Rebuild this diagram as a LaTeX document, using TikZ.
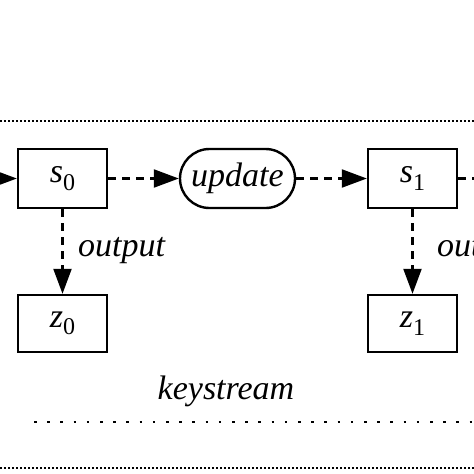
\documentclass[tikz,border=0pt]{standalone}
\usepackage{fontspec}
\setmainfont{Liberation Serif}
\usetikzlibrary{arrows.meta,shapes.misc}
\newcommand{\sub}[2]{\textit{#1}\raisebox{-0.22em}{\fontsize{24}{24}\selectfont #2}}
\begin{document}
\begin{tikzpicture}[x=1pt,y=-1pt,
  every node/.style={font=\fontsize{34}{40}\selectfont},
  statebox/.style={draw,line width=2.4pt,minimum width=89pt,minimum height=59pt,inner sep=0pt},
  outbox/.style={draw,line width=2.4pt,minimum width=89pt,minimum height=57pt,inner sep=0pt},
  updbox/.style={draw,line width=2.4pt,rounded rectangle,minimum width=115pt,minimum height=59pt,inner sep=0pt},
  flow/.style={line width=2.2pt,dash pattern=on 8pt off 6pt,-{Triangle[length=25pt,width=18pt]}},
  lbl/.style={anchor=west,inner sep=0pt,font=\fontsize{34}{40}\selectfont\itshape},
  dense/.style={line width=2pt,dash pattern=on 1.8pt off 2.2pt},
  sparse/.style={line width=2.6pt,dash pattern=on 2.6pt off 10.6pt}]
\clip (0,0) rectangle (474,474);
\node[statebox] (s0) at (62.5,178.5) {\sub{s}{0}};
\node[updbox] (upd) at (237.5,178.5) {\itshape update};
\node[statebox] (s1) at (412.5,178.5) {\sub{s}{1}};
\node[outbox] (z0) at (62.5,323.5) {\sub{z}{0}};
\node[outbox] (z1) at (412.5,323.5) {\sub{z}{1}};
\coordinate (inL) at (-30,178.5);
\coordinate (outR) at (490,178.5);
\node[lbl] (o0) at (78,251) {output};
\node[lbl] (o1) at (437,251) {output};
\node[font=\fontsize{34}{40}\selectfont\itshape] (ks) at (226,391) {keystream};
\coordinate (t0) at (0,121);
\coordinate (t1) at (474,121);
\coordinate (k0) at (34,422);
\coordinate (k1) at (474,422);
\coordinate (b0) at (0,468);
\coordinate (b1) at (474,468);
\draw[flow] (inL) -- (s0.west);
\draw[flow] (s0.east) -- (upd.west);
\draw[flow] (upd.east) -- (s1.west);
\draw[line width=2.2pt,dash pattern=on 8pt off 6pt] (s1.east) -- (outR);
\draw[flow] (s0.south) -- (z0.north);
\draw[flow] (s1.south) -- (z1.north);
\draw[dense] (t0) -- (t1);
\draw[sparse] (k0) -- (k1);
\draw[dense] (b0) -- (b1);
\end{tikzpicture}
\end{document}
